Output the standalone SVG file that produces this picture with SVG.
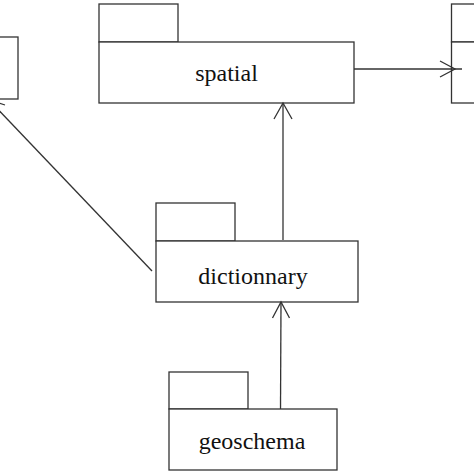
<svg xmlns="http://www.w3.org/2000/svg" width="474" height="474" viewBox="0 0 474 474">
<style>
.box{fill:#fff;stroke:#333;stroke-width:1.3}
.ln{fill:none;stroke:#333;stroke-width:1.3}
.lbl{font-family:"Liberation Serif","Times New Roman",serif;font-size:24px;fill:#111;text-anchor:middle}
</style>
<rect width="474" height="474" fill="#fff"/>
<g id="left">
<rect class="box" x="-100" y="37" width="118" height="62"/>
</g>
<g id="spatial">
<rect class="box" x="99" y="4" width="79" height="38"/>
<rect class="box" x="99" y="42" width="255" height="61"/>
<text class="lbl" x="226.5" y="81">spatial</text>
</g>
<g id="right">
<rect class="box" x="451.5" y="4" width="60" height="38"/>
<rect class="box" x="451.5" y="42" width="60" height="61"/>
</g>
<g id="dictionnary">
<rect class="box" x="156" y="203" width="79" height="38"/>
<rect class="box" x="156" y="241" width="202" height="61"/>
<text class="lbl" x="253" y="284">dictionnary</text>
</g>
<g id="geoschema">
<rect class="box" x="169" y="372" width="79" height="37"/>
<rect class="box" x="169" y="409" width="168" height="61"/>
<text class="lbl" x="252" y="449">geoschema</text>
</g>
<g id="connectors">
<line class="ln" x1="354" y1="69" x2="462" y2="69"/>
<polyline class="ln" points="440,61 455,69 440,77"/>
<line class="ln" x1="283" y1="240" x2="283" y2="103"/>
<polyline class="ln" points="274,119 283,103 292,119"/>
<line class="ln" x1="280.5" y1="409" x2="281" y2="302"/>
<polyline class="ln" points="272.5,318 281,302 289.5,318"/>
<line class="ln" x1="152" y1="271" x2="-11" y2="100"/>
<polyline class="ln" points="5,105 -11,100 -7,117"/>
</g>
</svg>
